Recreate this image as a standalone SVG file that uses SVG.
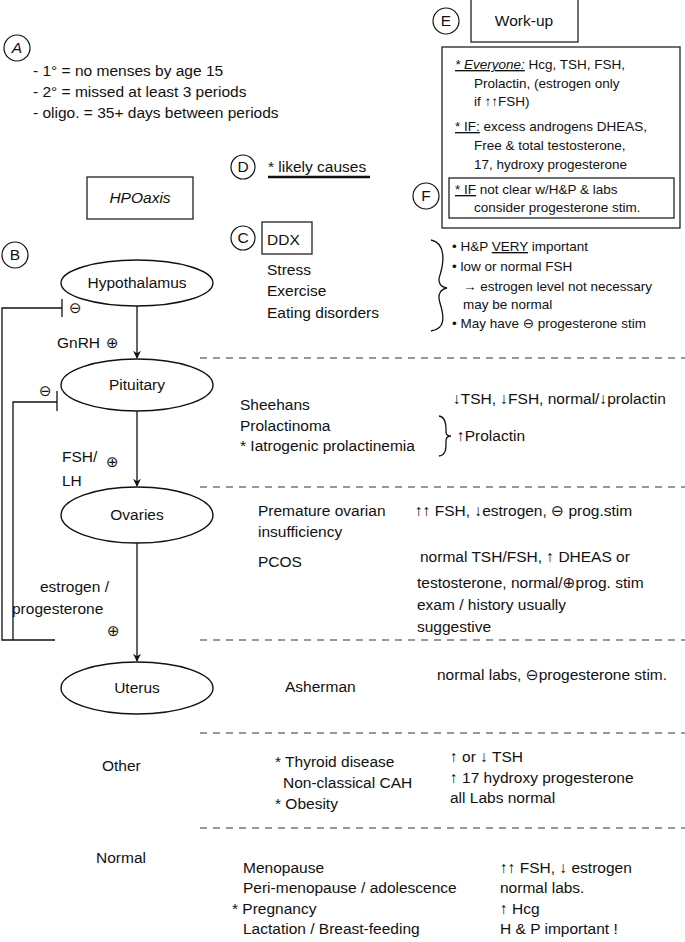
<svg xmlns="http://www.w3.org/2000/svg" width="685" height="942" viewBox="0 0 685 942">
<style>
text{font-family:"Liberation Sans","DejaVu Sans",sans-serif;font-size:15.5px;fill:#111}
.sm{font-size:13.5px}
.box{fill:none;stroke:#222;stroke-width:1.3}
.ell{fill:#fff;stroke:#111;stroke-width:1.4}
.ln{fill:none;stroke:#111;stroke-width:1.3}
.dash{stroke:#333;stroke-width:1.2;stroke-dasharray:7 6}
.lbl{fill:none;stroke:#111;stroke-width:1.2}
.ul{text-decoration:underline}
.sym{font-size:15px}
</style>
<defs>
<marker id="ah" viewBox="0 0 10 10" refX="9" refY="5" markerWidth="8" markerHeight="8" orient="auto" markerUnits="userSpaceOnUse"><path d="M0,0 L10,5 L0,10 L3,5 z" fill="#111"/></marker>
</defs>
<rect width="685" height="942" fill="#fff"/>

<g id="labelA"><circle class="lbl" cx="17" cy="48" r="13"/><text x="17" y="53" text-anchor="middle" font-style="italic">A</text></g>
<g id="defs-text">
<text x="33" y="76">- 1° = no menses by age 15</text>
<text x="33" y="97">- 2° = missed at least 3 periods</text>
<text x="33" y="118">- oligo. = 35+ days between periods</text>
</g>

<g id="labelE"><circle class="lbl" cx="446" cy="21" r="13"/><text x="446" y="26" text-anchor="middle">E</text></g>
<g id="workup"><rect class="box" x="471" y="-1" width="107" height="43"/><text x="524" y="26" text-anchor="middle">Work-up</text></g>
<g id="workup-list">
<rect class="box" x="442" y="47" width="238" height="181"/>
<text x="455" y="69" class="sm"><tspan class="ul" font-style="italic">* Everyone:</tspan> Hcg, TSH, FSH,</text>
<text x="474" y="88" class="sm">Prolactin, (estrogen only</text>
<text x="474" y="106" class="sm">if ↑↑FSH)</text>
<text x="455" y="131" class="sm"><tspan class="ul">* IF:</tspan> excess androgens DHEAS,</text>
<text x="474" y="150" class="sm">Free &amp; total testosterone,</text>
<text x="474" y="169" class="sm">17, hydroxy progesterone</text>
</g>
<g id="labelF"><circle class="lbl" cx="426" cy="196" r="13"/><text x="426" y="201" text-anchor="middle">F</text></g>
<g id="progstim">
<rect class="box" x="449" y="178" width="225" height="40"/>
<text x="455" y="194" class="sm"><tspan class="ul">* IF</tspan> not clear w/H&amp;P &amp; labs</text>
<text x="474" y="212" class="sm">consider progesterone stim.</text>
</g>

<g id="labelD"><circle class="lbl" cx="243" cy="167" r="12"/><text x="243" y="172" text-anchor="middle">D</text>
<text x="268" y="172">* likely causes</text><line x1="268" y1="177" x2="370" y2="177" stroke="#111" stroke-width="2.5"/></g>

<g id="hpoaxis"><rect class="box" x="87" y="177" width="106" height="42"/><text x="140" y="203" text-anchor="middle" font-style="italic">HPOaxis</text></g>

<g id="labelC"><circle class="lbl" cx="243" cy="238" r="12"/><text x="243" y="243" text-anchor="middle">C</text>
<rect class="box" x="262" y="222" width="50" height="32"/><text x="267" y="245">DDX</text></g>

<g id="labelB"><circle class="lbl" cx="15" cy="255" r="13"/><text x="15" y="260" text-anchor="middle">B</text></g>

<g id="hypothalamus"><ellipse class="ell" cx="137" cy="283" rx="76" ry="23"/><text x="137" y="288" text-anchor="middle">Hypothalamus</text></g>
<g id="pituitary"><ellipse class="ell" cx="137" cy="385" rx="76" ry="26"/><text x="137" y="390" text-anchor="middle">Pituitary</text></g>
<g id="ovaries"><ellipse class="ell" cx="137" cy="515" rx="76" ry="28"/><text x="137" y="520" text-anchor="middle">Ovaries</text></g>
<g id="uterus"><ellipse class="ell" cx="137" cy="688" rx="76" ry="26"/><text x="137" y="693" text-anchor="middle">Uterus</text></g>

<g id="connectors">
<line class="ln" x1="137" y1="306" x2="137" y2="358" marker-end="url(#ah)"/>
<line class="ln" x1="137" y1="411" x2="137" y2="486" marker-end="url(#ah)"/>
<line class="ln" x1="137" y1="543" x2="137" y2="661" marker-end="url(#ah)"/>
<path class="ln" d="M62 299 V317 M62 308 H2 V640 H55"/>
<path class="ln" d="M57 391 V411 M57 402 H13 V640"/>
</g>
<g id="conn-labels">
<text x="69" y="313" class="sym">⊖</text>
<text x="57" y="348">GnRH</text><text x="106" y="348" class="sym">⊕</text>
<text x="39" y="396" class="sym">⊖</text>
<text x="62" y="462">FSH/</text><text x="62" y="486">LH</text><text x="106" y="467" class="sym">⊕</text>
<text x="40" y="592">estrogen /</text><text x="12" y="614">progesterone</text><text x="107" y="636" class="sym">⊕</text>
</g>

<g id="dividers">
<line class="dash" x1="200" y1="358" x2="685" y2="358"/>
<line class="dash" x1="200" y1="487" x2="685" y2="487"/>
<line class="dash" x1="200" y1="640" x2="685" y2="640"/>
<line class="dash" x1="200" y1="733" x2="685" y2="733"/>
<line class="dash" x1="200" y1="828" x2="685" y2="828"/>
</g>

<g id="row-hypothalamus">
<text x="267" y="275">Stress</text>
<text x="267" y="296">Exercise</text>
<text x="267" y="318">Eating disorders</text>
<path class="ln" stroke-width="2.4" d="M431 240 C446 243 444 262 440 275 C437 283 441 287 447 288 C441 289 437 294 440 303 C444 316 446 329 431 331"/>
<text x="452" y="251" class="sm">• H&amp;P <tspan class="ul">VERY</tspan> important</text>
<text x="452" y="271" class="sm">• low or normal FSH</text>
<text x="463" y="291" class="sm">→ estrogen level not necessary</text>
<text x="463" y="309" class="sm">may be normal</text>
<text x="452" y="328" class="sm">• May have ⊖ progesterone stim</text>
</g>

<g id="row-pituitary">
<text x="240" y="410">Sheehans</text>
<text x="240" y="431">Prolactinoma</text>
<text x="240" y="451">* Iatrogenic prolactinemia</text>
<path class="ln" stroke-width="2" d="M439 416 C447 417 446 428 446 432 C446 435 448 436 451 436 C448 436 446 437 446 441 C446 446 447 455 439 456"/>
<text x="453" y="404">↓TSH, ↓FSH, normal/↓prolactin</text>
<text x="457" y="441">↑Prolactin</text>
</g>

<g id="row-ovaries">
<text x="258" y="516">Premature ovarian</text>
<text x="258" y="537">insufficiency</text>
<text x="258" y="567">PCOS</text>
<text x="415" y="516">↑↑ FSH, ↓estrogen, ⊖ prog.stim</text>
<text x="420" y="562">normal TSH/FSH, ↑ DHEAS or</text>
<text x="417" y="588">testosterone, normal/⊕prog. stim</text>
<text x="417" y="610">exam / history usually</text>
<text x="417" y="632">suggestive</text>
</g>

<g id="row-uterus">
<text x="285" y="692">Asherman</text>
<text x="437" y="680">normal labs, ⊖progesterone stim.</text>
</g>

<g id="row-other">
<text x="102" y="771">Other</text>
<text x="275" y="767">* Thyroid disease</text>
<text x="283" y="788">Non-classical CAH</text>
<text x="275" y="809">* Obesity</text>
<text x="450" y="762">↑ or ↓ TSH</text>
<text x="450" y="783">↑ 17 hydroxy progesterone</text>
<text x="450" y="803">all Labs normal</text>
</g>

<g id="row-normal">
<text x="96" y="863">Normal</text>
<text x="243" y="873">Menopause</text>
<text x="243" y="893">Peri-menopause / adolescence</text>
<text x="232" y="914">* Pregnancy</text>
<text x="243" y="934">Lactation / Breast-feeding</text>
<text x="500" y="873">↑↑ FSH, ↓ estrogen</text>
<text x="500" y="893">normal labs.</text>
<text x="500" y="914">↑ Hcg</text>
<text x="500" y="934">H &amp; P important !</text>
</g>
</svg>
